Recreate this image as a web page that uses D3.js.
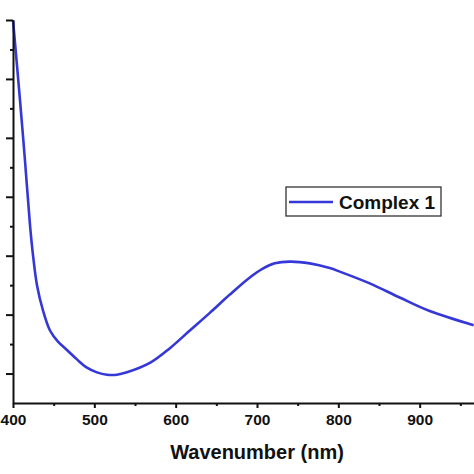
<!DOCTYPE html>
<html>
<head>
<meta charset="utf-8">
<script src="https://cdn.jsdelivr.net/npm/d3@7"></script>
<style>
  body { margin: 0; background: #fff; }
  svg text { font-family: "Liberation Sans", Arial, sans-serif; font-weight: bold; fill: #111; }
</style>
</head>
<body>
<script>
// spectrum (arbitrary absorbance units)
var wavelength = [400, 408.6, 414.7, 420.9, 424.6, 429.5, 436.9, 445.5, 455.3, 466.3, 478.6, 490.9,
                  503.2, 515.5, 527.8, 540, 568.3, 592.9, 617.4, 642, 666.6, 691.2, 707.1, 721.9,
                  740.3, 764.9, 789.4, 801.7, 838.6, 875.4, 912.3, 966.3];
var absorbance = [7.0, 5.64, 4.62, 3.52, 3.01, 2.5, 2.07, 1.73, 1.54, 1.4, 1.24, 1.1,
                  1.02, 0.98, 0.98, 1.02, 1.18, 1.43, 1.73, 2.03, 2.34, 2.63, 2.78, 2.87,
                  2.9, 2.87, 2.79, 2.73, 2.53, 2.29, 2.06, 1.82];
var xMajor = [400, 500, 600, 700, 800, 900];
var xMinor = [450, 550, 650, 750, 850, 950];
var yMajor = [1, 2, 3, 4, 5, 6, 7];
var yMinor = [1.5, 2.5, 3.5, 4.5, 5.5, 6.5];
var seriesName = "Complex 1";

var W = 474, H = 474;
var pLeft = 13, pTop = 20, pBottom = 403, pRight = 501;

var svg = d3.select("body").append("svg")
    .attr("width", W)
    .attr("height", H);

var x = d3.scaleLinear().domain([400, 1000]).range([pLeft, pRight]);
var y = d3.scaleLinear().domain([0.5, 7]).range([pBottom, pTop]);

var data = wavelength.map(function(w, i) { return {x: w, y: absorbance[i]}; });

// the curve
var line = d3.line()
    .x(function(d) { return x(d.x); })
    .y(function(d) { return y(d.y); })
    .curve(d3.curveCatmullRom.alpha(0.5));

svg.append("path")
    .datum(data)
    .attr("d", line)
    .attr("fill", "none")
    .attr("stroke", "#3538d6")
    .attr("stroke-width", 2.6)
    .attr("stroke-linejoin", "round");

// x axis, major + minor ticks
var xAx = svg.append("g")
    .attr("transform", "translate(0," + pBottom + ")")
    .call(d3.axisBottom(x).tickValues(xMajor).tickSize(5).tickSizeOuter(0).tickPadding(6)
      .tickFormat(d3.format("d")));
xAx.selectAll("text").style("font-size", "15.5px");

svg.append("g")
    .attr("transform", "translate(0," + pBottom + ")")
    .call(d3.axisBottom(x).tickValues(xMinor).tickSize(3).tickSizeOuter(0).tickFormat(""))
    .select(".domain").remove();

// y axis, no labels
svg.append("g")
    .attr("transform", "translate(" + pLeft + ",0)")
    .call(d3.axisLeft(y).tickValues(yMajor).tickSize(7).tickSizeOuter(0).tickFormat(""));

svg.append("g")
    .attr("transform", "translate(" + pLeft + ",0)")
    .call(d3.axisLeft(y).tickValues(yMinor).tickSize(3).tickSizeOuter(0).tickFormat(""))
    .select(".domain").remove();

svg.selectAll(".domain, .tick line")
    .attr("stroke", "#111")
    .attr("stroke-width", 2);

svg.append("text")
    .attr("x", (pLeft + pRight) / 2)
    .attr("y", 459)
    .attr("text-anchor", "middle")
    .style("font-size", "20px")
    .text("Wavenumber (nm)");

// legend
var lg = svg.append("g").attr("transform", "translate(286,187)");
lg.append("rect")
    .attr("width", 155).attr("height", 29)
    .attr("fill", "#fff")
    .attr("stroke", "#333")
    .attr("stroke-width", 1.3);
lg.append("line")
    .attr("x1", 3).attr("x2", 47)
    .attr("y1", 15).attr("y2", 15)
    .attr("stroke", "#3538d6")
    .attr("stroke-width", 2.6);
lg.append("text")
    .attr("x", 53).attr("y", 22)
    .style("font-size", "19px")
    .text(seriesName);
</script>
</body>
</html>
